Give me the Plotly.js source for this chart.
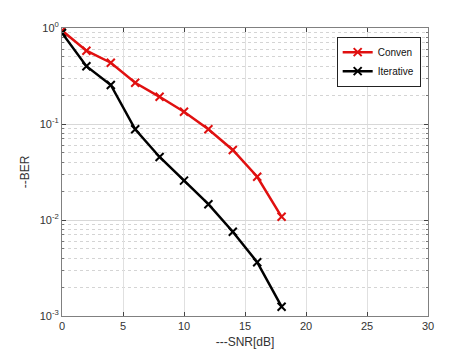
<!DOCTYPE html>
<html>
<head>
<meta charset="utf-8">
<script src="https://cdn.plot.ly/plotly-3.0.1.min.js"></script>
<style>html,body{margin:0;padding:0;background:#fff;}#chart{width:474px;height:355px;}</style>
</head>
<body>
<div id="chart"></div>
<script>
const snr = [0, 2, 4, 6, 8, 10, 12, 14, 16, 18];
const berConven = [0.94, 0.58, 0.435, 0.269, 0.192, 0.134, 0.088, 0.0536, 0.0282, 0.0108];
const berIterative = [0.887, 0.40, 0.255, 0.088, 0.0453, 0.0257, 0.0146, 0.00755, 0.00363, 0.00125];
const xTicks = [0, 5, 10, 15, 20, 25, 30];
const yTickVals = [1, 0.1, 0.01, 0.001];
const yTickText = ['10<sup>0</sup>', '10<sup>-1</sup>', '10<sup>-2</sup>', '10<sup>-3</sup>'];

const traces = [
  {x: snr, y: berConven, name: 'Conven', type: 'scatter', mode: 'lines+markers',
   line: {color: '#e01010', width: 2.5},
   marker: {symbol: 'x-thin-open', size: 8, color: '#e01010', line: {color: '#e01010', width: 2}}},
  {x: snr, y: berIterative, name: 'Iterative', type: 'scatter', mode: 'lines+markers',
   line: {color: '#000000', width: 2.5},
   marker: {symbol: 'x-thin-open', size: 8, color: '#000000', line: {color: '#000000', width: 2}}}
];

const layout = {
  width: 474, height: 355,
  margin: {l: 62, r: 46, t: 28, b: 39},
  paper_bgcolor: '#ffffff', plot_bgcolor: '#ffffff',
  font: {family: 'Liberation Sans, Arial, sans-serif', size: 11, color: '#333333'},
  showlegend: true,
  legend: {x: 0.98, y: 0.97, xanchor: 'right', yanchor: 'top', bgcolor: '#ffffff',
           bordercolor: '#222222', borderwidth: 1, font: {size: 10, color: '#111111'},
           tracegroupgap: 0, itemwidth: 30},
  xaxis: {range: [0, 30], tickvals: xTicks, ticks: 'inside', ticklen: 4, tickcolor: '#444',
          showline: true, linecolor: '#808080', linewidth: 1, mirror: 'ticks',
          showgrid: true, gridcolor: '#e0e0e0', gridwidth: 1, zeroline: false,
          title: {text: '---SNR[dB]', font: {size: 12, color: '#333'}, standoff: 6}},
  yaxis: {type: 'log', range: [-3, 0], tickvals: yTickVals, ticktext: yTickText,
          ticks: 'inside', ticklen: 4, tickcolor: '#444',
          showline: true, linecolor: '#808080', linewidth: 1, mirror: 'ticks',
          showgrid: true, gridcolor: '#d8d8d8', gridwidth: 1, zeroline: false,
          minor: {dtick: 'D1', showgrid: true, griddash: 'dot', gridcolor: '#d4d4d4', gridwidth: 1,
                  ticks: 'inside', ticklen: 2, tickcolor: '#777'},
          title: {text: '--BER', font: {size: 12, color: '#333'}, standoff: 7}}
};

Plotly.newPlot('chart', traces, layout, {displayModeBar: false, staticPlot: true});
</script>
</body>
</html>
